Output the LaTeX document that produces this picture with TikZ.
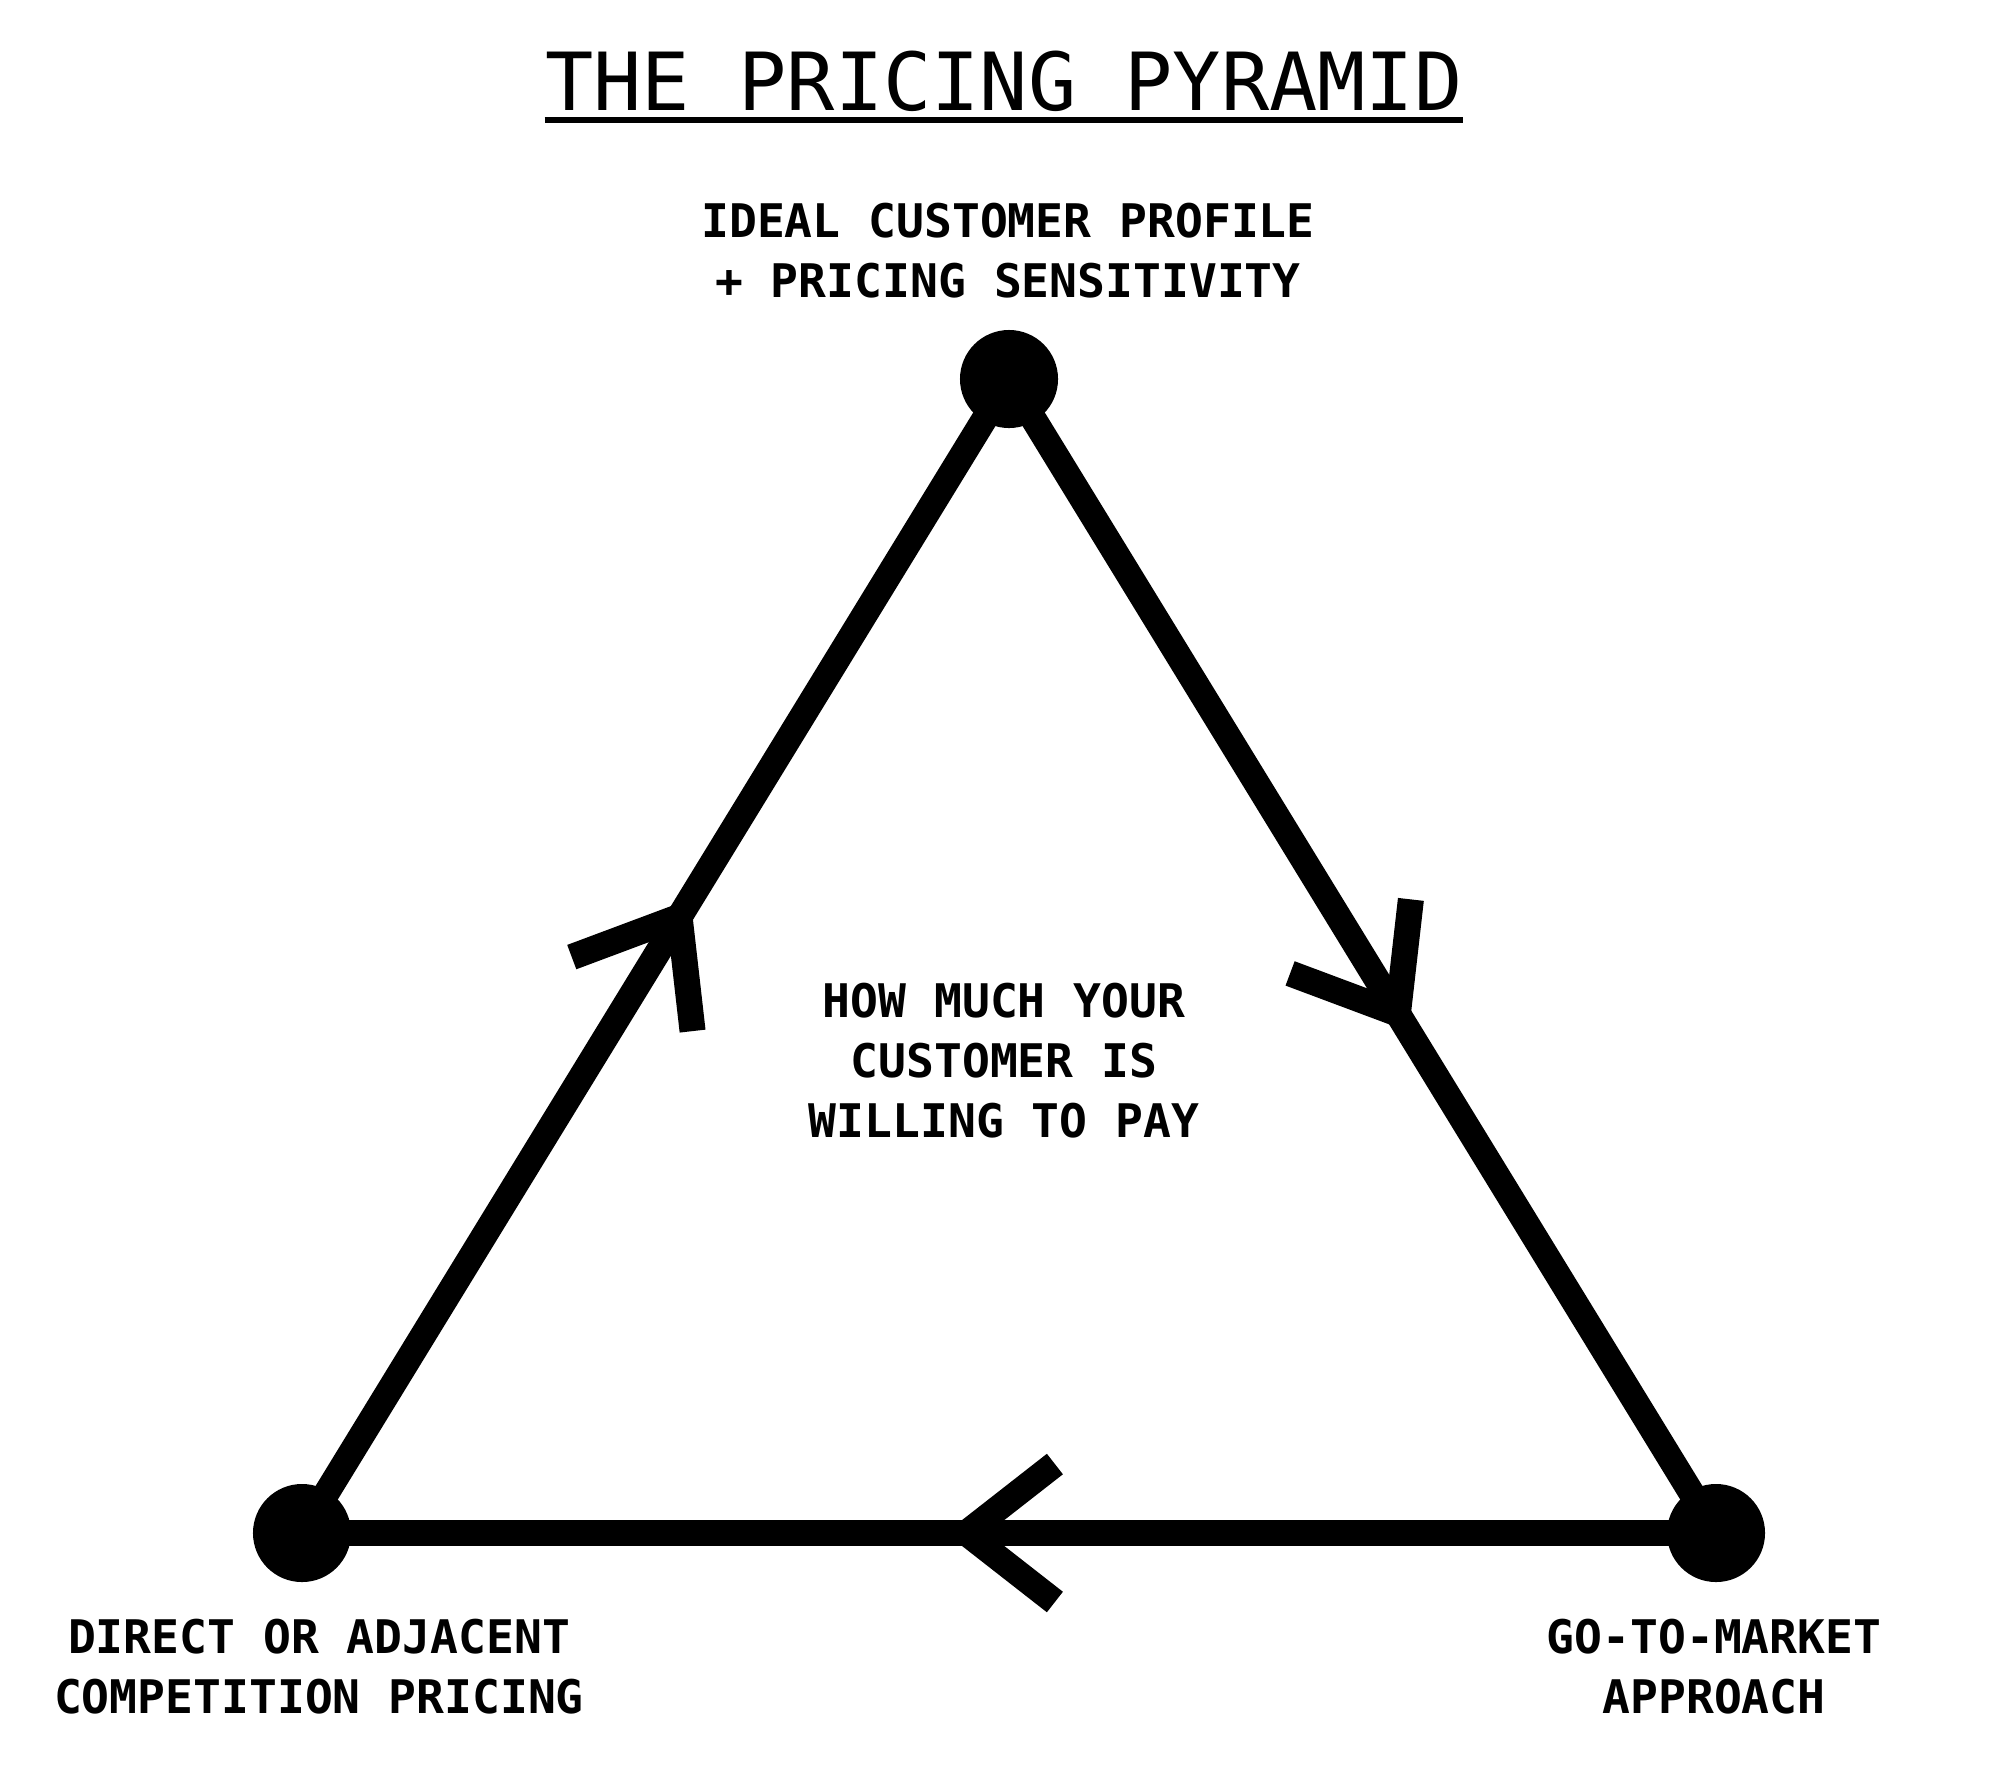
\documentclass[tikz,border=0pt]{standalone}
\usepackage{fontspec}
\newfontfamily\mono{DejaVu Sans Mono}
\usetikzlibrary{calc}
\begin{document}
\begin{tikzpicture}[x=0.01cm,y=-0.01cm,
  dot/.style={circle,fill=black,inner sep=0pt,minimum size=0.98cm},
  edge/.style={line width=0.26cm,black,line cap=butt},
  arm/.style={line width=0.26cm,black,line cap=butt,line join=miter},
  lbl/.style={font=\mono\bfseries\fontsize{13.17pt}{17.07pt}\selectfont,align=center,inner sep=0pt},
  ttl/.style={font=\mono\fontsize{22.8pt}{27pt}\selectfont,inner sep=0pt}]
\useasboundingbox (0,0) rectangle (2000,1775);
\fill[white] (0,0) rectangle (2000,1775);
% title
\node[ttl,anchor=base] (title) at (1004,110) {THE PRICING PYRAMID};
\draw[line width=0.06cm] ($(title.base west)+(0,10)$) -- ($(title.base east)+(0,10)$);
% vertices
\coordinate (ptop) at (1009,379);
\coordinate (pbl) at (302,1533);
\coordinate (pbr) at (1716,1533);
\draw[edge] (pbl) -- (ptop);
\draw[edge] (ptop) -- (pbr);
\draw[edge] (pbr) -- (pbl);
\node[dot] (top) at (ptop) {};
\node[dot] (bl) at (pbl) {};
\node[dot] (br) at (pbr) {};
% arrowheads
\coordinate (t1) at ($(bl.center)!0.534!(top.center)$);
\coordinate (t2) at ($(top.center)!0.55!(br.center)$);
\coordinate (t3) at ($(br.center)!0.53!(bl.center)$);
\draw[arm] ($(t1)!1.15cm!38:(bl.center)$) -- (t1) -- ($(t1)!1.15cm!-38:(bl.center)$);
\draw[arm] ($(t2)!1.15cm!38:(top.center)$) -- (t2) -- ($(t2)!1.15cm!-38:(top.center)$);
\draw[arm] ($(t3)!1.12cm!38:(br.center)$) -- (t3) -- ($(t3)!1.12cm!-38:(br.center)$);
% labels
\node[lbl] (ltop) at (1008,251) {IDEAL CUSTOMER PROFILE\\+ PRICING SENSITIVITY};
\node[lbl] (lmid) at (1004,1061) {HOW MUCH YOUR\\CUSTOMER IS\\WILLING TO PAY};
\node[lbl] (lbl) at (319,1667) {DIRECT OR ADJACENT\\COMPETITION PRICING};
\node[lbl] (lbr) at (1714,1667) {GO-TO-MARKET\\APPROACH};
\end{tikzpicture}
\end{document}
